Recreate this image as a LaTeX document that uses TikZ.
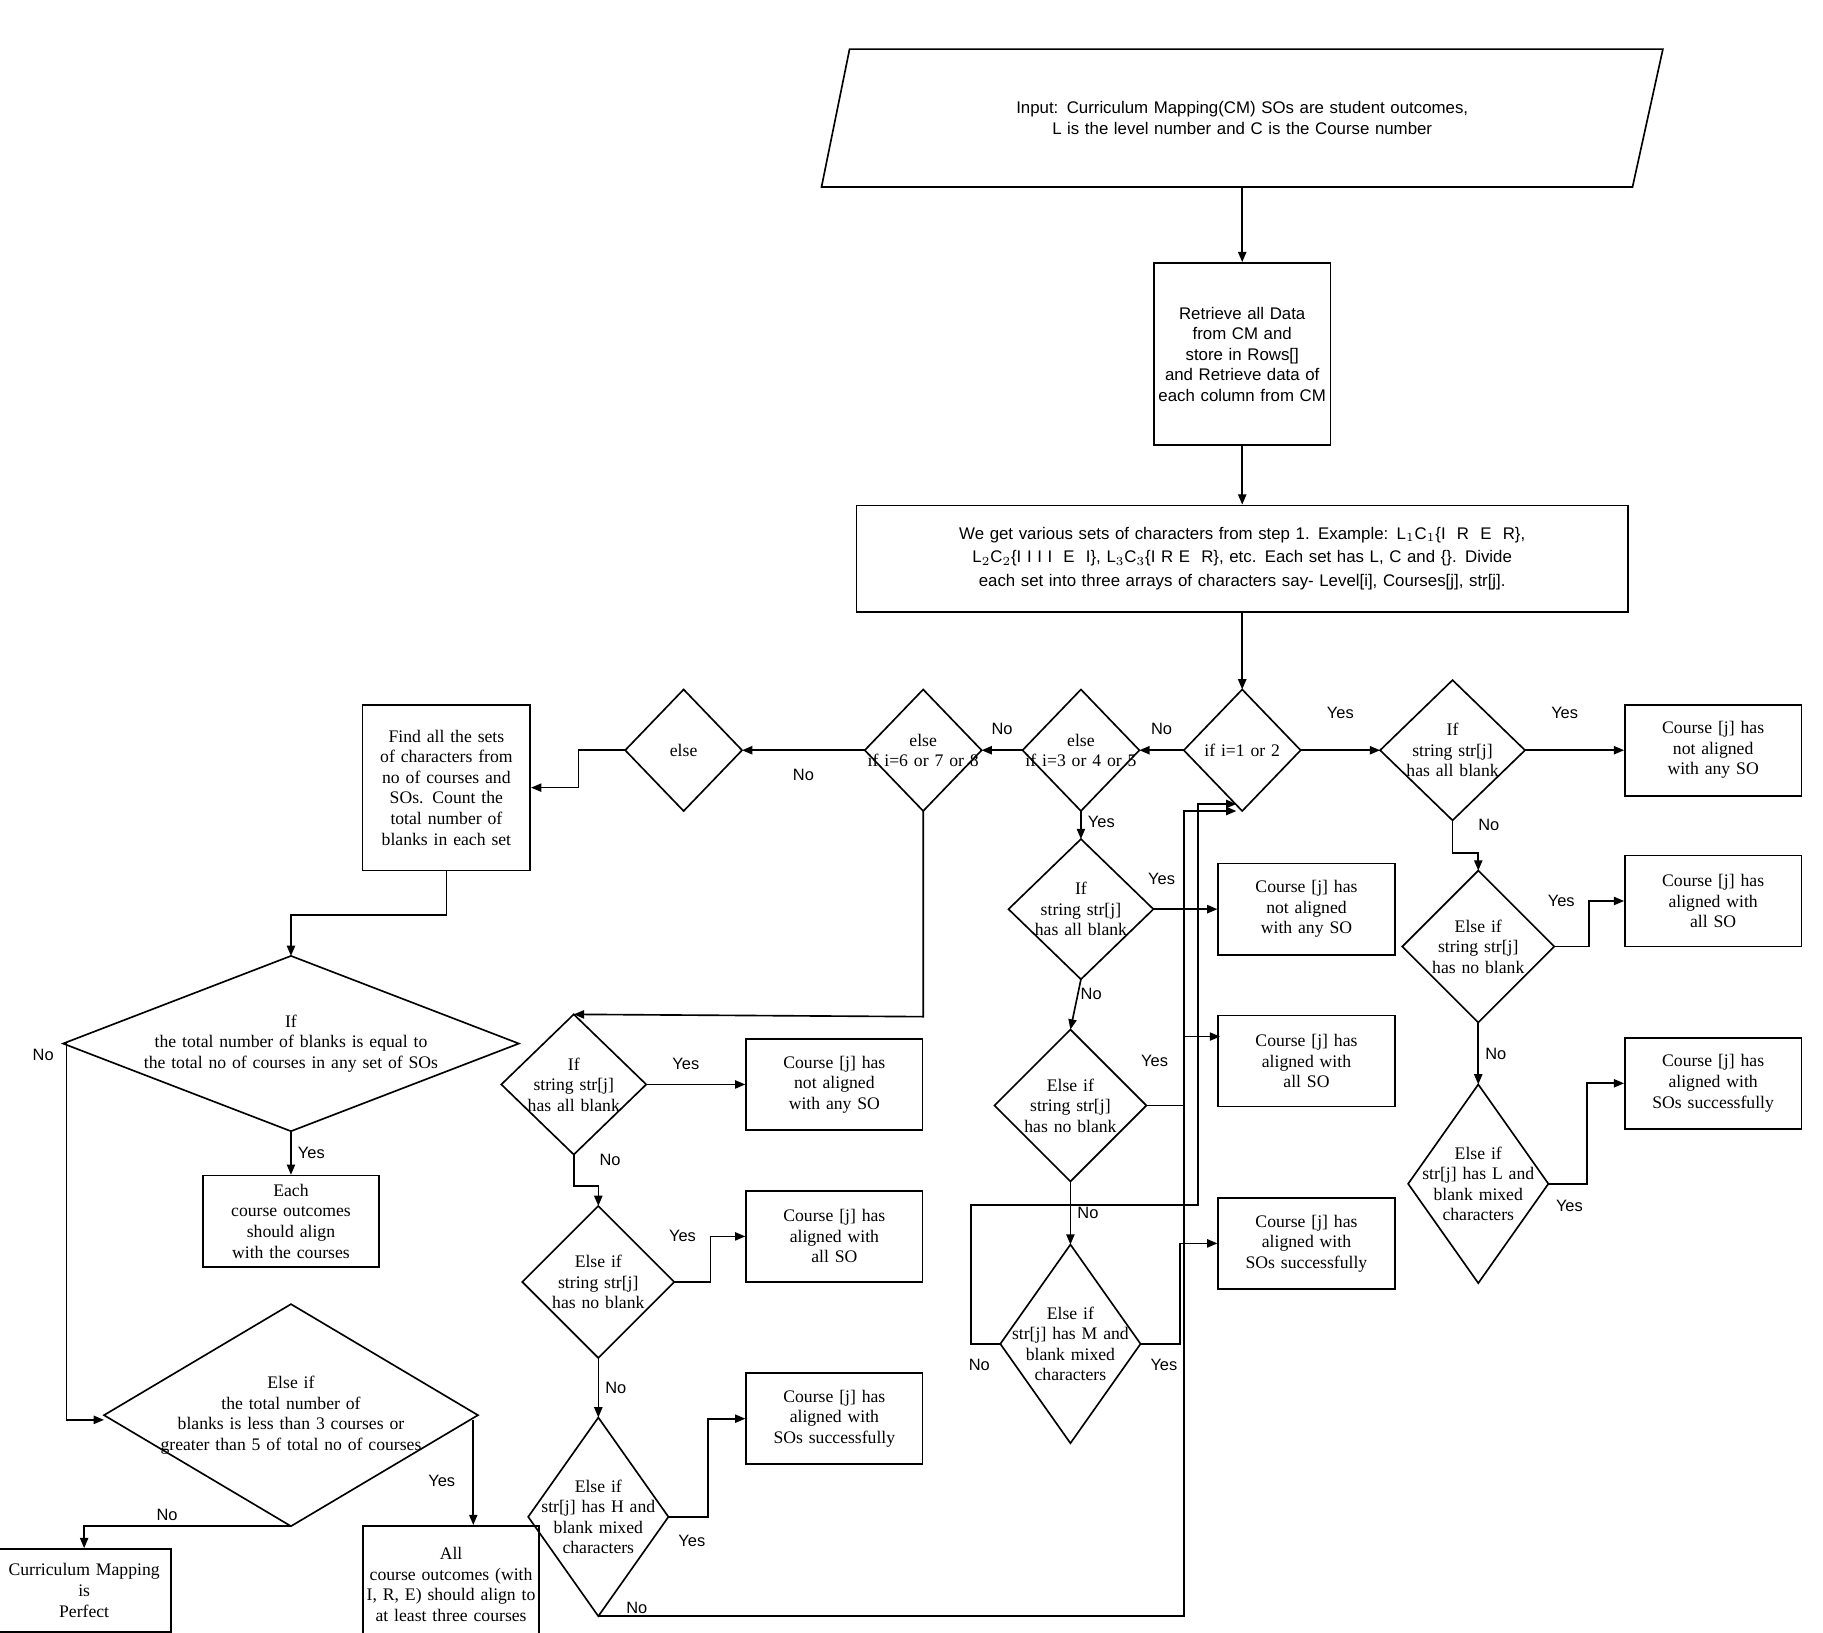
\documentclass[tikz,border=0pt]{standalone}
\usepackage{fontspec}
\usepackage[none]{hyphenat}
\setmainfont{Liberation Serif}
\newfontfamily\sansf{Liberation Sans}
\usetikzlibrary{arrows.meta}
\tikzset{
  every picture/.style={x=0.02cm,y=-0.02cm},
  txt/.style={align=center,font=\fontsize{8.6}{10}\selectfont,inner sep=0pt},
  box/.style={draw,thick,align=center,font=\fontsize{8.6}{10}\selectfont,inner sep=1pt},
  lab/.style={font=\sansf\fontsize{8}{9}\selectfont,inner sep=1pt},
  arr/.style={thick,-{Triangle[length=5pt,width=4pt]}},
}
% diamond: name, centre, half width, half height, text width, text
\newcommand\dia[6]{%
  \coordinate (#1) at (#2);
  \draw[thick] (#1)++(-#3,0) coordinate (#1w) --++(#3,-#4) coordinate (#1n)
     --++(#3,#4) coordinate (#1e) --++(-#3,#4) coordinate (#1s) -- cycle;
  \node[txt,text width=#5] (#1t) at (#1) {#6};}
\begin{document}
\begin{tikzpicture}
\useasboundingbox (0,0) rectangle (1560,1397);
% input parallelogram
\draw[thick] (727,42) -- (1423,42) -- (1397,160) -- (703,160) -- cycle;
\node[txt,font=\sansf\fontsize{8.2}{10}\selectfont,text width=13.6cm] (in) at (1063,101)
  {Input: Curriculum Mapping(CM) SOs are student outcomes, L is the level number and C is the Course number};
\coordinate (ins) at (1063,160);
\node[box,font=\sansf\fontsize{8.2}{10}\selectfont,minimum width=3cm,minimum height=3.12cm,text width=2.95cm] (ret) at (1063,303)
  {Retrieve all Data from CM and store in Rows[]\\ and Retrieve data of each column from CM};
\node[box,font=\sansf\fontsize{8.2}{11.5}\selectfont,minimum width=13.2cm,minimum height=1.82cm,text width=12.4cm] (get) at (1063,478)
  {We get various sets of characters from step 1. Example: L$_1$C$_1$\{I\ \ R\ \ E\ \ R\}, L$_2$C$_2$\{I I I I\ \ E\ \ I\}, L$_3$C$_3$\{I R E\ \ R\}, etc. Each set has L, C and \{\}. Divide each set into three arrays of characters say- Level[i], Courses[j], str[j].};
\draw[arr] (ins) -- (ret);
\draw[arr] (ret) -- (get);

% top row of decisions
\dia{d1}{1063,642}{50}{52}{1.9cm}{if i=1 or 2}
\dia{d2}{925,642}{50}{52}{2cm}{else\\ if i=3 or 4 or 5}
\dia{d3}{790,642}{50}{52}{2cm}{else\\ if i=6 or 7 or 8}
\dia{d4}{585,642}{50}{52}{1.5cm}{else}
\draw[arr] (d1w) -- (d2e) node[lab,pos=0.5,above=6pt] {No};
\draw[arr] (get) -- (d1n);
\draw[arr] (d2w) -- (d3e) node[lab,pos=0.5,above=6pt] {No};
\draw[arr] (d3w) -- (d4e) node[lab,pos=0.5,below=8pt] {No};

\node[box,minimum width=2.86cm,minimum height=2.84cm,text width=2.8cm] (find) at (382,674)
  {Find all the sets of characters from\ \ no of courses and SOs. Count the total number of blanks in each set};
\draw[arr] (d4w) -- (495,642) -- (495,674) -- (find.east);

% right column
\dia{a1}{1243,642}{62}{60}{2.2cm}{If\\ string str[j] has all blank}
\dia{a2}{1265,810}{65}{65}{2.5cm}{Else if\\ string str[j] has no blank}
\dia{a3}{1265,1013}{60}{85}{2.3cm}{Else if\\ str[j] has L and blank mixed characters}
\node[box,minimum width=2.98cm,minimum height=1.56cm,text width=2.95cm] (r1) at (1466,642) {Course [j] has not aligned\\ with any SO};
\node[box,minimum width=2.98cm,minimum height=1.56cm,text width=2.95cm] (r2) at (1466,771) {Course [j] has aligned with\\ all SO};
\node[box,minimum width=2.98cm,minimum height=1.56cm,text width=2.95cm] (r3) at (1466,927) {Course [j] has aligned with\\ SOs successfully};
\draw[arr] (d1e) -- (a1w) node[lab,pos=0.5,above=14pt] {Yes};
\draw[arr] (a1e) -- (r1.west) node[lab,pos=0.4,above=14pt] {Yes};
\draw[arr] (a1s) -- (1243,730) -- (1265,730) -- (a2n);
\node[lab] at (1274,706) {No};
\draw[arr] (a2e) -- (1360,810) -- (1360,771) -- (r2.west);
\node[lab] at (1336,771) {Yes};
\draw[arr] (a2s) -- (a3n) node[lab,pos=0.5,right=2pt] {No};
\draw[arr] (a3e) -- (1358,1013) -- (1358,927) -- (r3.west);
\node[lab] at (1343,1032) {Yes};

% middle column
\dia{b1}{925,778}{62}{60}{2.2cm}{If\\ string str[j] has all blank}
\dia{b2}{916,946}{65}{65}{2.5cm}{Else if\\ string str[j] has no blank}
\dia{b3}{916,1150}{60}{85}{2.3cm}{Else if\\ str[j] has M and blank mixed characters}
\node[box,minimum width=2.98cm,minimum height=1.56cm,text width=2.95cm] (m1) at (1118,778) {Course [j] has not aligned\\ with any SO};
\node[box,minimum width=2.98cm,minimum height=1.56cm,text width=2.95cm] (m2) at (1118,908) {Course [j] has aligned with\\ all SO};
\node[box,minimum width=2.98cm,minimum height=1.56cm,text width=2.95cm] (m3) at (1118,1064) {Course [j] has aligned with\\ SOs successfully};
\draw[arr] (d2s) -- (b1n) node[lab,pos=0.4,right=2pt] {Yes};
\draw[arr] (b1e) -- (m1.west);
\node[lab] at (994,752) {Yes};
\draw[arr] (b1s) -- (b2n) node[lab,pos=0.3,right=0pt] {No};
\draw[arr] (b2e) -- (1013,946) -- (1013,887) -- (1044,887);
\node[lab] at (988,908) {Yes};
\draw[arr] (b2s) -- (b3n) node[lab,pos=0.5,right=2pt] {No};
\draw[arr] (b3e) -- (1010,1150) -- (1010,1064) -- (m3.west);
\node[lab] at (996,1168) {Yes};
\coordinate (back1) at (1058,688);
\draw[arr] (b3w) -- (831,1150) -- (831,1031) -- (1025,1031) -- (1025,688) -- (back1);
\node[lab] at (838,1168) {No};

% left-middle column
\dia{c1}{491,928}{62}{60}{2.2cm}{If\\ string str[j] has all blank}
\dia{c2}{512,1097}{65}{65}{2.5cm}{Else if\\ string str[j] has no blank}
\dia{c3}{512,1298}{60}{85}{2.3cm}{Else if\\ str[j] has H and blank mixed characters}
\node[box,minimum width=2.98cm,minimum height=1.56cm,text width=2.95cm] (l1) at (714,928) {Course [j] has not aligned\\ with any SO};
\node[box,minimum width=2.98cm,minimum height=1.56cm,text width=2.95cm] (l2) at (714,1058) {Course [j] has aligned with\\ all SO};
\node[box,minimum width=2.98cm,minimum height=1.56cm,text width=2.95cm] (l3) at (714,1214) {Course [j] has aligned with\\ SOs successfully};
\draw[arr] (d3s) -- (790,870) -- (c1n);
\draw[arr] (c1e) -- (l1.west) node[lab,pos=0.4,above=6pt] {Yes};
\draw[arr] (c1s) -- (491,1015) -- (512,1015) -- (c2n);
\node[lab] at (522,993) {No};
\draw[arr] (c2e) -- (608,1097) -- (608,1058) -- (l2.west);
\node[lab] at (584,1058) {Yes};
\draw[arr] (c2s) -- (c3n) node[lab,pos=0.5,right=2pt] {No};
\draw[arr] (c3e) -- (606,1298) -- (606,1214) -- (l3.west);
\node[lab] at (592,1319) {Yes};
\coordinate (back2) at (1058,694);
\draw[arr] (c3s) -- (1013,1383) -- (1013,694) -- (back2);
\node[lab] at (545,1376) {No};

% left part
\dia{e1}{249,893}{195}{75}{7.6cm}{If\\ the total number of blanks is equal to the total no of courses in any set of SOs}
\dia{e2}{249,1211}{160}{95}{6cm}{Else if\\ the total number of\\ blanks is less than 3 courses or greater than 5 of total no of courses}
\node[box,minimum width=2.98cm,minimum height=1.56cm,text width=2.95cm] (each) at (249,1045)
  {Each\\ course outcomes should align with the courses};
\node[box,minimum width=2.96cm,minimum height=1.42cm,text width=2.9cm] (perf) at (72,1361)
  {Curriculum Mapping\\ is\\ Perfect};
\node[box,anchor=north,minimum width=3cm,minimum height=2cm,text width=2.95cm] (all) at (386,1305)
  {All\\ course outcomes (with I, R, E) should align to at least three courses};
\draw[arr] (find.south) -- (382,783) -- (249,783) -- (e1n);
\draw[arr] (e1s) -- (each.north) node[lab,pos=0.5,right=2pt] {Yes};
\draw[arr] (e1w) -- (57,893) -- (57,1215) -- (89,1215);
\node[lab] at (37,903) {No};
\draw[arr] (e2s) -- (72,1306) -- (perf.north);
\node[lab] at (143,1296) {No};
\draw[arr] (405,1215) -- (405,1305);
\node[lab] at (378,1267) {Yes};
\end{tikzpicture}
\end{document}
